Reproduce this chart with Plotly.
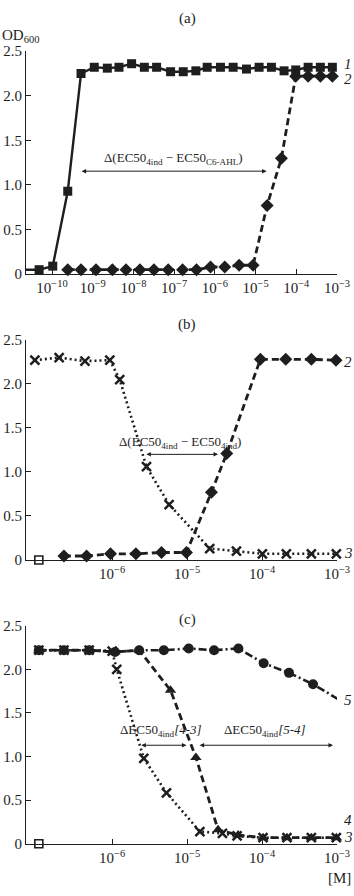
import plotly.graph_objects as go

# ---------------- data ----------------
# panel (a)
a_s1_x = [2.06e-11, 4.81e-11, 1.04e-10, 2.43e-10, 5.15e-10, 1.09e-9, 2.28e-9, 4.41e-9, 9.0e-9,
          1.85e-8, 3.70e-8, 8.17e-8, 1.67e-7, 3.41e-7, 6.47e-7, 1.37e-6, 2.81e-6, 5.97e-6,
          1.22e-5, 2.45e-5, 5.01e-5, 9.68e-5, 1.95e-4, 3.90e-4, 7.69e-4]
a_s1_y = [0.05, 0.05, 0.09, 0.93, 2.25, 2.32, 2.31, 2.32, 2.36, 2.32, 2.32, 2.27, 2.27, 2.28,
          2.32, 2.32, 2.32, 2.30, 2.32, 2.32, 2.28, 2.29, 2.32, 2.32, 2.32]
a_s2_x = [2.43e-10, 5.15e-10, 1.20e-9, 3.03e-9, 6.55e-9, 1.44e-8, 3.18e-8, 7.14e-8, 1.61e-7,
          3.54e-7, 7.82e-7, 1.75e-6, 3.94e-6, 8.69e-6, 1.92e-5, 4.31e-5, 9.68e-5, 1.95e-4,
          3.90e-4, 7.69e-4]
a_s2_y = [0.05, 0.05, 0.05, 0.05, 0.05, 0.05, 0.05, 0.05, 0.05, 0.05, 0.08, 0.08, 0.10, 0.10,
          0.77, 1.30, 2.22, 2.22, 2.22, 2.22]

# panel (b)
b_s2_x = [2.27e-7, 4.55e-7, 9.5e-7, 2.07e-6, 4.55e-6, 9.8e-6, 2.11e-5, 3.38e-5, 9.5e-5,
          2.07e-4, 4.55e-4, 9.7e-4]
b_s2_y = [0.045, 0.045, 0.07, 0.07, 0.085, 0.085, 0.77, 1.21, 2.28, 2.28, 2.28, 2.27]
b_s3_x = [9.3e-8, 1.96e-7, 4.33e-7, 9.3e-7, 1.26e-6, 2.87e-6, 5.75e-6, 2.0e-5, 4.55e-5,
          1.01e-4, 2.11e-4, 4.55e-4, 9.8e-4]
b_s3_y = [2.27, 2.30, 2.26, 2.27, 2.05, 1.06, 0.63, 0.13, 0.10, 0.07, 0.07, 0.07, 0.07]

# panel (c)
c_s5_x = [1.05e-7, 2.27e-7, 4.93e-7, 1.09e-6, 2.29e-6, 4.89e-6, 1.05e-5, 2.29e-5, 4.83e-5,
          1.05e-4, 2.29e-4, 4.79e-4, 1.03e-3]
c_s5_y = [2.22, 2.22, 2.22, 2.20, 2.22, 2.22, 2.24, 2.22, 2.24, 2.07, 1.96, 1.83, 1.66]
c_s4_x = [1.05e-7, 2.27e-7, 4.93e-7, 1.09e-6, 2.29e-6, 6.0e-6, 1.31e-5, 2.59e-5, 4.79e-5,
          1.03e-4, 2.15e-4, 4.55e-4, 9.8e-4]
c_s4_y = [2.22, 2.22, 2.22, 2.20, 2.22, 1.76, 0.99, 0.16, 0.10, 0.07, 0.07, 0.07, 0.07]
c_s3_x = [1.05e-7, 2.27e-7, 4.93e-7, 1.0e-6, 1.15e-6, 2.64e-6, 5.3e-6, 1.48e-5, 2.96e-5,
          4.64e-5, 1.03e-4, 2.15e-4, 4.55e-4, 9.8e-4]
c_s3_y = [2.22, 2.22, 2.22, 2.21, 2.00, 0.98, 0.585, 0.14, 0.12, 0.09, 0.07, 0.07, 0.07, 0.07]

control_x = [1.05e-7]
control_y = [0.0]

a_xticks = [1e-10, 1e-9, 1e-8, 1e-7, 1e-6, 1e-5, 1e-4, 1e-3]
a_xtext = ["10<sup>−10</sup>", "10<sup>−9</sup>", "10<sup>−8</sup>", "10<sup>−7</sup>",
           "10<sup>−6</sup>", "10<sup>−5</sup>", "10<sup>−4</sup>", "10<sup>−3</sup>"]
bc_xticks = [1e-6, 1e-5, 1e-4, 1e-3]
bc_xtext = ["10<sup>−6</sup>", "10<sup>−5</sup>", "10<sup>−4</sup>", "10<sup>−3</sup>"]
yticks = [0, 0.5, 1.0, 1.5, 2.0, 2.5]
ytext = ["0", "0.5", "1.0", "1.5", "2.0", "2.5"]

# ---------------- styling ----------------
INK = "#1e1e1e"
FONT = "Liberation Serif"
W, H = 354, 896
L, R = 26, 17


def py(p):  # pixel row -> paper y
    return 1 - p / H


def px(p):  # pixel column -> paper x
    return (p - L) / (W - L - R)


fig = go.Figure()


def add(x, y, xa, ya, symbol, size, dash, lw=2.6, mline=0):
    fig.add_trace(go.Scatter(
        x=x, y=y, xaxis=xa, yaxis=ya, mode="lines+markers",
        line=dict(color=INK, width=lw, dash=dash),
        marker=dict(symbol=symbol, size=size, color=INK,
                    line=dict(color=INK, width=mline)),
        cliponaxis=False, showlegend=False))


add(a_s1_x, a_s1_y, "x", "y", "square", 9, "solid", 2.4)
add(a_s2_x, a_s2_y, "x", "y", "diamond", 10, "7px,4px", 2.8)

add(b_s3_x, b_s3_y, "x2", "y2", "x-thin", 9, "2px,3px", 2.6, 2.5)
add(b_s2_x, b_s2_y, "x2", "y2", "diamond", 10, "7px,4px", 2.8)

add(c_s3_x, c_s3_y, "x3", "y3", "x-thin", 9, "2px,3px", 2.6, 2.5)
add(c_s4_x, c_s4_y, "x3", "y3", "triangle-up", 10, "7px,4px", 2.8)
add(c_s5_x, c_s5_y, "x3", "y3", "circle", 10, "8px,3px,2px,3px", 2.6)

for xa, ya in (("x2", "y2"), ("x3", "y3")):
    fig.add_trace(go.Scatter(x=control_x, y=control_y, xaxis=xa, yaxis=ya, mode="markers",
                             marker=dict(symbol="square-open", size=8, color=INK,
                                         line=dict(width=1.6, color=INK)),
                             cliponaxis=False, showlegend=False))

axis_common = dict(showline=True, linecolor=INK, linewidth=1.2, ticks="inside", ticklen=5,
                   tickcolor=INK, tickwidth=1.1, showgrid=False, zeroline=False,
                   tickfont=dict(family=FONT, size=15, color=INK))

fig.update_layout(
    width=W, height=H, autosize=False,
    margin=dict(l=L, r=R, t=0, b=0),
    paper_bgcolor="white", plot_bgcolor="white",
    xaxis=dict(type="log", range=[-10.64, -3], anchor="y", domain=[0, 1],
               tickvals=a_xticks, ticktext=a_xtext, **axis_common),
    yaxis=dict(range=[0, 2.5], anchor="x", domain=[py(271), py(44)],
               tickvals=yticks, ticktext=ytext, **axis_common),
    xaxis2=dict(type="log", range=[-7.15, -3], anchor="y2", domain=[0, 1],
                tickvals=bc_xticks, ticktext=bc_xtext, **axis_common),
    yaxis2=dict(range=[0, 2.5], anchor="x2", domain=[py(562), py(338)],
                tickvals=yticks, ticktext=ytext, **axis_common),
    xaxis3=dict(type="log", range=[-7.15, -3], anchor="y3", domain=[0, 1],
                tickvals=bc_xticks, ticktext=bc_xtext, **axis_common),
    yaxis3=dict(range=[0, 2.5], anchor="x3", domain=[py(851), py(629)],
                tickvals=yticks, ticktext=ytext, **axis_common),
)


def text(x, y, s, size=15, xanchor="center", xref="paper", yref="paper"):
    fig.add_annotation(x=x, y=y, xref=xref, yref=yref, text=s, showarrow=False,
                       xanchor=xanchor, yanchor="middle",
                       font=dict(family=FONT, size=size, color=INK))


def arrow(x0, x1, y, xref, yref):
    fig.add_annotation(x=x1, y=y, ax=x0, ay=y, xref=xref, yref=yref, axref=xref, ayref=yref,
                       text="", showarrow=True, arrowhead=2, startarrowhead=2,
                       arrowside="end+start", arrowsize=0.9, startarrowsize=0.9,
                       arrowwidth=1, arrowcolor=INK, standoff=0, startstandoff=0)


# titles and axis titles
text(px(187), py(11), "(a)")
text(px(187), py(322), "(b)")
text(px(187), py(623), "(c)")
text(px(0), py(28), "OD<sub>600</sub>", xanchor="left")
text(px(339), py(886), "[M]")

# curve numbers
text(px(348), py(57), "<i>1</i>")
text(px(348), py(72), "<i>2</i>")
text(px(348), py(360), "<i>2</i>")
text(px(348), py(555), "<i>3</i>")
text(px(348), py(705), "<i>5</i>")
text(px(348), py(827), "<i>4</i>")
text(px(348), py(844), "<i>3</i>")

# EC50 difference arrows
arrow(-9.31, -4.73, 1.155, "x", "y")
text(-7.02, 1.30, "Δ(EC50<sub>4ind</sub> − EC50<sub>C6-AHL</sub>)", size=13, xref="x", yref="y")

arrow(-5.564, -4.587, 1.20, "x2", "y2")
text(-5.098, 1.34, "Δ(EC50<sub>4ind</sub> − EC50<sub>4ind</sub>)", size=13, xref="x2", yref="y2")

arrow(-5.631, -5.009, 1.13, "x3", "y3")
arrow(-4.853, -3.053, 1.13, "x3", "y3")
text(-5.342, 1.30, "ΔEC50<sub>4ind</sub><i>[4-3]</i>", size=13, xref="x3", yref="y3")
text(-3.964, 1.30, "ΔEC50<sub>4ind</sub><i>[5-4]</i>", size=13, xref="x3", yref="y3")

fig.write_html("out.html",
               config={"displayModeBar": False},
               post_script="document.body.style.margin='0px';"
                           "document.body.style.overflow='hidden';")
